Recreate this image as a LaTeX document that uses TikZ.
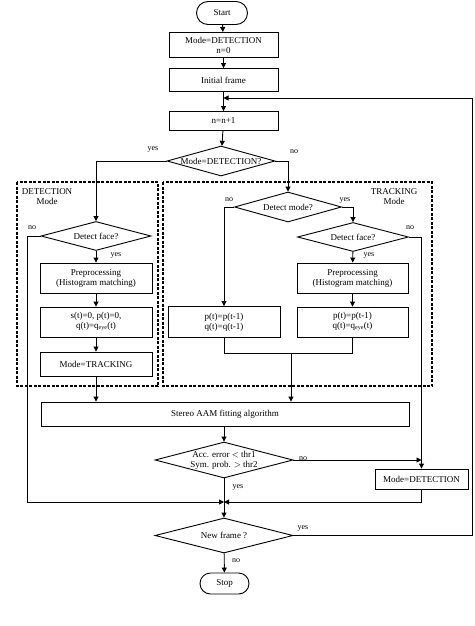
\documentclass[tikz,border=0pt]{standalone}
\usepackage{fontspec}
\setmainfont{Liberation Serif}
\usetikzlibrary{shapes.geometric,shapes.misc,arrows.meta}

\tikzset{
  box/.style={draw, line width=0.9pt, align=center, inner sep=1pt},
  dec/.style={draw, diamond, line width=0.9pt, align=center, inner sep=0pt},
  term/.style={draw, rounded rectangle, line width=0.9pt, inner sep=1pt},
  flow/.style={line width=0.9pt, -{Triangle[length=5pt,width=5pt]}},
  conn/.style={line width=0.9pt},
  modebox/.style={line width=1.8pt, dash pattern=on 3pt off 1.5pt},
  lbl/.style={font=\fontsize{8}{9}\selectfont, inner sep=0pt},
}

\begin{document}
\begin{tikzpicture}[x=1pt,y=-1pt,font=\fontsize{9}{10}\selectfont]

	\useasboundingbox (0,0) rectangle (474,626);

	% Modus-Rahmen
	\draw[modebox] (17,182) rectangle (158,386);
	\draw[modebox] (163,182) rectangle (432,386);
	\node[align=center] (detlabel) at (47,197) {DETECTION\\Mode};
	\node[align=center] (trlabel) at (394,197) {TRACKING\\Mode};

	% Hauptkette
	\node[term, minimum width=53, minimum height=23] (start) at (222,13) {Start};
	\node[box, minimum width=109, minimum height=25] (init) at (223.5,45) {Mode=DETECTION\\n=0};
	\node[box, minimum width=109, minimum height=23] (frame) at (223.5,80) {Initial frame};
	\node[box, minimum width=109, minimum height=19] (incr) at (223.5,121) {n=n+1};
	\node[dec, minimum width=108, minimum height=30, aspect=3.6] (modeq) at (221,161) {Mode=DETECTION?};

	% Detektion
	\node[dec, minimum width=110, minimum height=29, aspect=3.8] (face1) at (96,236) {Detect face?};
	\node[box, minimum width=112, minimum height=30] (prep1) at (96,278) {Preprocessing\\(Histogram matching)};
	\node[box, minimum width=112, minimum height=30] (set1) at (96,322) {s(t)=0, p(t)=0,\\q(t)=q\textsubscript{eye}(t)};
	\node[box, minimum width=112, minimum height=24] (modetr) at (96,364) {Mode=TRACKING};

	% Tracking
	\node[dec, minimum width=107, minimum height=30, aspect=3.6] (detmode) at (288,207) {Detect mode?};
	\node[dec, minimum width=111, minimum height=29, aspect=3.8] (face2) at (353,237) {Detect face?};
	\node[box, minimum width=111, minimum height=30] (prep2) at (352.5,278) {Preprocessing\\(Histogram matching)};
	\node[box, minimum width=111, minimum height=30] (upd2) at (352.5,322) {p(t)=p(t-1)\\q(t)=q\textsubscript{eye}(t)};
	\node[box, minimum width=112, minimum height=31] (upd1) at (224,322) {p(t)=p(t-1)\\q(t)=q(t-1)};

	% Fitting und Ende
	\node[box, minimum width=368, minimum height=24] (stereo) at (225,414) {Stereo AAM fitting algorithm};
	\node[dec, minimum width=138, minimum height=36, aspect=3.8] (acc) at (224,460) {Acc. error $<$ thr1\\Sym. prob. $>$ thr2};
	\node[box, minimum width=93, minimum height=20] (modedet) at (421.5,479) {Mode=DETECTION};
	\node[dec, minimum width=138, minimum height=35, aspect=3.9] (newf) at (224,535.5) {New frame ?};
	\node[term, minimum width=51, minimum height=21] (stop) at (224.5,583.5) {Stop};

	% Hilfspunkte
	\coordinate (loop) at (223.5,98);
	\coordinate (rgt) at (472,98);
	\coordinate (lft) at (27,502);
	\coordinate (join) at (224,502);
	\coordinate (mrg) at (291,353);

	% Verbindungen
	\draw[flow] (start) -- (init);
	\draw[flow] (init) -- (frame);
	\draw[flow] (frame) -- (incr);
	\draw[flow] (incr) -- (modeq);
	\draw[flow] (modeq.west) -| (face1.north);
	\draw[flow] (modeq.east) -| (detmode.north);
	\draw[flow] (face1.west) -| (lft) -- (join);
	\draw[flow] (face1) -- (prep1);
	\draw[flow] (prep1) -- (set1);
	\draw[flow] (set1) -- (modetr);
	\draw[flow] (modetr) -- (modetr |- stereo.north);
	\draw[flow] (detmode.west) -| (upd1.north);
	\draw[flow] (detmode.east) -| (face2.north);
	\draw[flow] (face2) -- (prep2);
	\draw[flow] (prep2) -- (upd2);
	\draw[flow] (face2.east) -| (modedet.north);
	\draw[conn] (upd1.south) |- (mrg);
	\draw[conn] (upd2.south) |- (mrg);
	\draw[flow] (mrg) -- (mrg |- stereo.north);
	\draw[flow] (stereo.south -| acc.north) -- (acc.north);
	\draw[flow] (acc.east) -- (acc.east -| modedet.north);
	\draw[flow] (modedet.south) |- (join);
	\draw[flow] (acc) -- (newf);
	\draw[flow] (newf.east) -| (rgt) -- (loop);
	\draw[flow] (newf) -- (stop);

	% Beschriftungen
	\node[lbl] (y1) at (153,149) {yes};
	\node[lbl] (n1) at (294,152) {no};
	\node[lbl] (n2) at (32,228) {no};
	\node[lbl] (y2) at (116,255) {yes};
	\node[lbl] (n3) at (229,200) {no};
	\node[lbl] (y3) at (345,200) {yes};
	\node[lbl] (n4) at (410,228) {no};
	\node[lbl] (y4) at (369,255) {yes};
	\node[lbl] (n5) at (303,459) {no};
	\node[lbl] (y5) at (238,487) {yes};
	\node[lbl] (y6) at (303,528) {yes};
	\node[lbl] (n6) at (236,561) {no};

\end{tikzpicture}
\end{document}
